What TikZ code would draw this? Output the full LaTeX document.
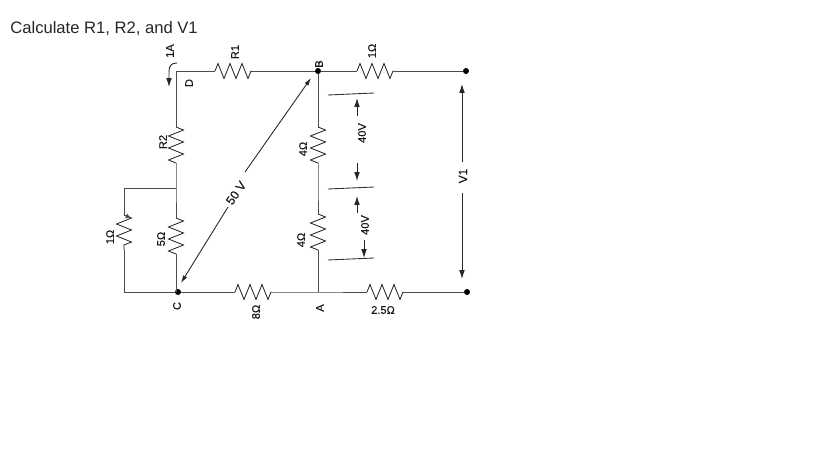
\documentclass[tikz,border=0pt]{standalone}
\usepackage{fontspec}
\setmainfont{Liberation Sans}
\newfontfamily\lblfont[FakeBold=0.35]{Liberation Sans}
\usepackage{xcolor}
\usetikzlibrary{arrows.meta, positioning, calc, decorations.pathmorphing}

\begin{document}
\begin{tikzpicture}[
    x=0.02cm,
    y=-0.02cm,
    wire/.style={
        draw=black!70,
        line width=0.55pt
    },
    resistor/.style={
        draw=black!90,
        line width=0.45pt,
        decorate,
        decoration={zigzag, segment length=0.24cm, amplitude=0.15cm}
    },
    arrow/.style={
        -{Latex[length=5pt,width=3.2pt]},
        draw=black!85,
        line width=0.5pt
    },
    thinarrow/.style={
        -{Latex[length=4.4pt,width=2.6pt]},
        draw=black!85,
        line width=0.5pt
    },
    tick/.style={
        draw=black!80,
        line width=0.5pt
    },
    dot/.style={
        circle,
        fill=black,
        inner sep=0pt,
        minimum size=3.4pt
    },
    lbl/.style={
        font=\lblfont\fontsize{6.3pt}{7pt}\selectfont,
        inner sep=0pt,
        text=black!90
    },
    vlbl/.style={
        lbl,
        rotate=90
    }
]
\useasboundingbox (0,0) rectangle (819,460);

% Title
\node[anchor=base west, inner sep=0pt, font=\fontsize{9.45pt}{11pt}\selectfont, text=black!85] (title) at (10,33) {Calculate R1, R2, and V1};

% Junctions
\coordinate (D) at (176,71);
\node[dot] (B) at (318,71) {};
\node[dot] (C) at (178,292) {};
\coordinate (Cw) at (176,292);
\coordinate (A) at (319,292);
\coordinate (Aw) at (318,292);
\coordinate (J) at (176,188);
\coordinate (M) at (318,188);
\coordinate (leftTop) at (124,188);
\coordinate (leftBot) at (124,292);
\node[dot] (endTop) at (466,71) {};
\node[dot] (endBot) at (467,292) {};

% Resistor ends
\coordinate (r1a) at (215,71);
\coordinate (r1b) at (251,71);
\coordinate (r2a) at (176,127);
\coordinate (r2b) at (176,163);
\coordinate (r5a) at (176,218);
\coordinate (r5b) at (176,254);
\coordinate (rva) at (124,215);
\coordinate (rvb) at (124,250);
\coordinate (rvtip) at (131,218);
\coordinate (r8a) at (235,292);
\coordinate (r8b) at (271,292);
\coordinate (r4a) at (318,127);
\coordinate (r4b) at (318,163);
\coordinate (r4c) at (318,214);
\coordinate (r4d) at (318,250);
\coordinate (r1Ra) at (357,71);
\coordinate (r1Rb) at (394,71);
\coordinate (r25a) at (367,292);
\coordinate (r25b) at (403,292);

% Wires
\draw[wire] (D) -- (r1a) (r1b) -- (B) -- (r1Ra) (r1Rb) -- (endTop);
\draw[wire] (D) -- (r2a) (r2b) -- (J) -- (r5a) (r5b) -- (Cw);
\draw[wire] (J) -- (leftTop) -- (rva) (rvb) -- (leftBot) -- (C);
\draw[wire] (C) -- (r8a) (r8b) -- (A) -- (r25a) (r25b) -- (endBot);
\draw[wire] (B) -- (r4a) (r4b) -- (M) -- (r4c) (r4d) -- (Aw);

% Resistors
\draw[resistor] (r1a) -- (r1b);
\draw[resistor] (r2a) -- (r2b);
\draw[resistor] (r5a) -- (r5b);
\draw[resistor] (rva) -- (rvb);
\draw[resistor] (r8a) -- (r8b);
\draw[resistor] (r4a) -- (r4b);
\draw[resistor] (r4c) -- (r4d);
\draw[resistor] (r1Ra) -- (r1Rb);
\draw[resistor] (r25a) -- (r25b);
\draw[-{Latex[length=3pt,width=3pt]}, wire] (rva) -- (rvtip);

% 1A arrow
\coordinate (iStart) at (177,63);
\coordinate (iEnd) at (169,87);
\draw[arrow] (iStart) .. controls (171,63) and (169,66) .. (169,72) -- (iEnd);

% 50 V arrows
\node[lbl, rotate=55, font=\lblfont\fontsize{7pt}{8pt}\selectfont] (v50) at (236,193) {50 V};
\coordinate (v50Top) at (311,78);
\coordinate (v50Bot) at (181,283);
\coordinate (v50a) at (245,172);
\coordinate (v50b) at (228,207);
\draw[thinarrow] (v50a) -- (v50Top);
\draw[thinarrow] (v50b) -- (v50Bot);

% Voltage ticks
\coordinate (t1a) at (328,95);
\coordinate (t1b) at (374,93);
\coordinate (t2a) at (328,189);
\coordinate (t2b) at (374,187);
\coordinate (t3a) at (328,260);
\coordinate (t3b) at (374,258);
\draw[tick] (t1a) -- (t1b);
\draw[tick] (t2a) -- (t2b);
\draw[tick] (t3a) -- (t3b);

% 40V arrows
\node[vlbl] (v40a) at (362,133) {40V};
\node[vlbl] (v40b) at (365,225) {40V};
\coordinate (a1s) at (357,116);
\coordinate (a1e) at (357,98);
\coordinate (a2s) at (357,163);
\coordinate (a2e) at (357,181);
\coordinate (a3s) at (357,213);
\coordinate (a3e) at (357,196);
\coordinate (a4s) at (364,240);
\coordinate (a4e) at (364,258);
\draw[arrow] (a1s) -- (a1e);
\draw[arrow] (a2s) -- (a2e);
\draw[arrow] (a3s) -- (a3e);
\draw[arrow] (a4s) -- (a4e);

% V1 arrows
\node[vlbl, font=\lblfont\fontsize{6.8pt}{7pt}\selectfont] (v1) at (463,176) {V1};
\coordinate (v1Top) at (462,84);
\coordinate (v1Bot) at (462,279);
\coordinate (v1a) at (462,162);
\coordinate (v1b) at (462,193);
\draw[arrow] (v1a) -- (v1Top);
\draw[arrow] (v1b) -- (v1Bot);

% Labels
\node[vlbl] (l1A) at (170,51) {1A};
\node[vlbl] (lR1) at (235,52) {R1};
\node[vlbl] (lB) at (319,64) {B};
\node[vlbl] (lD) at (189,83) {D};
\node[vlbl] (lR2) at (163,142) {R2};
\node[vlbl] (l4a) at (303,149) {4Ω};
\node[vlbl] (l1R) at (372,51) {1Ω};
\node[vlbl] (l1L) at (110,237) {1Ω};
\node[vlbl] (l5) at (161,239) {5Ω};
\node[vlbl] (l4b) at (301,240) {4Ω};
\node[vlbl] (lC) at (177,306) {C};
\node[vlbl] (l8) at (256,312) {8Ω};
\node[vlbl] (lA) at (320,308) {A};
\node[lbl] (l25) at (383,310) {2.5Ω};

\end{tikzpicture}
\end{document}
